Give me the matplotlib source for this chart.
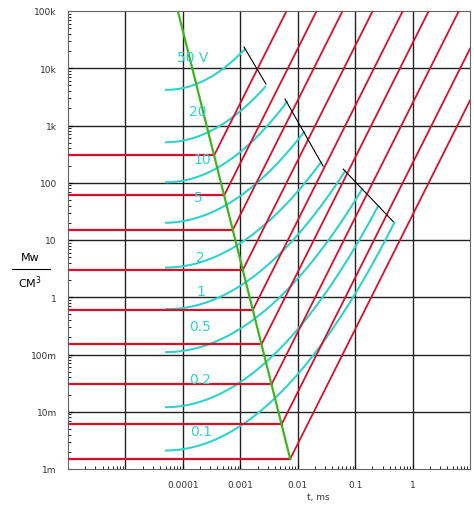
import numpy as np
import matplotlib.pyplot as plt

# power levels (horizontal red lines)
power_levels = [300, 60, 15, 3, 0.6, 0.15, 0.03, 0.006, 0.0015]
# green boundary line: P = p_ref * (t / t_ref) ** slope
green_ref_t = 7.4e-3
green_ref_p = 0.0015
green_slope = -4.0
diag_slope = 2.0

volt_labels = ["50 V", "20", "10", "5", "2", "1", "0.5", "0.2", "0.1"]
curve_t0 = [5.1e-5] * 9
curve_p0 = [4.2e3, 510, 102, 20, 3.3, 0.62, 0.11, 0.012, 0.0021]
curve_tm = [2.5e-4, 3.7e-4, 5.8e-4, 8.1e-4, 1.14e-3, 1.9e-3, 2.6e-3, 3.6e-3, 4.9e-3]
curve_pm = [6.3e3, 890, 230, 51, 9.6, 2.5, 0.57, 0.093, 0.021]
curve_t1 = [1.21e-3, 2.7e-3, 6.5e-3, 0.0129, 0.0256, 0.067, 0.132, 0.25, 0.48]
curve_p1 = [21.7e3, 4.7e3, 2.6e3, 770, 230, 160, 77, 39, 20]
label_t = [1.5e-4, 1.8e-4, 2.2e-4, 1.85e-4, 2.0e-4, 2.1e-4, 2.0e-4, 2.0e-4, 2.1e-4]
label_p = [16e3, 1.8e3, 260, 56, 5.0, 1.27, 0.31, 0.037, 0.0046]

black_segs = [((1.16e-3, 23.5e3), (2.8e-3, 5.3e3)),
              ((6.0e-3, 2.9e3), (0.0277, 195)),
              ((0.062, 173), (0.46, 21))]

xticks = [1e-4, 1e-3, 1e-2, 1e-1, 1]
xticklabels = ["0.0001", "0.001", "0.01", "0.1", "1"]
yticks = [1e-3, 1e-2, 1e-1, 1, 10, 100, 1e3, 1e4, 1e5]
yticklabels = ["1m", "10m", "100m", "1", "10", "100", "1k", "10k", "100k"]

xmin, xmax = 1e-6, 10
ymin, ymax = 1e-3, 1e5

fig = plt.figure(figsize=(4.74, 5.10), dpi=100)
ax = fig.add_axes([68 / 474, 1 - 470 / 510, 402 / 474, 458 / 510])
ax.set_xscale("log")
ax.set_yscale("log")
ax.set_xlim(xmin, xmax)
ax.set_ylim(ymin, ymax)

for v in [1e-5, 1e-4, 1e-3, 1e-2, 1e-1, 1]:
    ax.axvline(v, color="#222222", lw=1.0, zorder=1)
for v in [1e-2, 1e-1, 1, 10, 100, 1e3, 1e4]:
    ax.axhline(v, color="#222222", lw=1.0, zorder=1)

red = "#d8102a"
for p in power_levels:
    t_c = green_ref_t * (p / green_ref_p) ** (1 / green_slope)
    ax.plot([xmin, t_c], [p, p], color=red, lw=1.6, zorder=3)
    tt = np.array([t_c, xmax])
    ax.plot(tt, p * (tt / t_c) ** diag_slope, color=red, lw=1.3, zorder=3)

t_top = green_ref_t * (ymax / green_ref_p) ** (1 / green_slope)
gt = np.array([t_top, green_ref_t])
ax.plot(gt, green_ref_p * (gt / green_ref_t) ** green_slope, color="#3cb521", lw=1.6, zorder=4)

cyan = "#2fd3c8"
for i in range(len(volt_labels)):
    lx = np.log10([curve_t0[i], curve_tm[i], curve_t1[i]])
    ly = np.log10([curve_p0[i], curve_pm[i], curve_p1[i]])
    c = np.polyfit(lx, ly, 2)
    xs = np.linspace(lx[0], lx[-1], 60)
    ax.plot(10 ** xs, 10 ** np.polyval(c, xs), color=cyan, lw=1.5, zorder=2)
    ax.text(label_t[i], label_p[i], volt_labels[i], color=cyan, fontsize=10,
            ha="center", va="center", zorder=5)

for (a, b) in black_segs:
    ax.plot([a[0], b[0]], [a[1], b[1]], color="black", lw=0.8, zorder=5)

ax.set_xticks(xticks)
ax.set_xticklabels(xticklabels, fontsize=6.5, color="#333333")
ax.set_yticks(yticks)
ax.set_yticklabels(yticklabels, fontsize=6.5, color="#333333")
ax.tick_params(axis="both", which="major", length=3, direction="in", pad=8)
ax.tick_params(axis="both", which="minor", length=2, direction="in")
for s in ax.spines.values():
    s.set_color("#666666")

fig.text(318 / 474, 1 - 500 / 510, "t, ms", fontsize=6.5, color="#333333", ha="center")
fig.text(30 / 474, 1 - 258 / 510, "Mw", fontsize=8, ha="center", va="center")
fig.add_artist(plt.Line2D([12 / 474, 50 / 474], [1 - 270 / 510] * 2, color="black", lw=0.8))
fig.text(30 / 474, 1 - 283 / 510, "CM$^3$", fontsize=8, ha="center", va="center")

fig.savefig("out.png", dpi=100)
